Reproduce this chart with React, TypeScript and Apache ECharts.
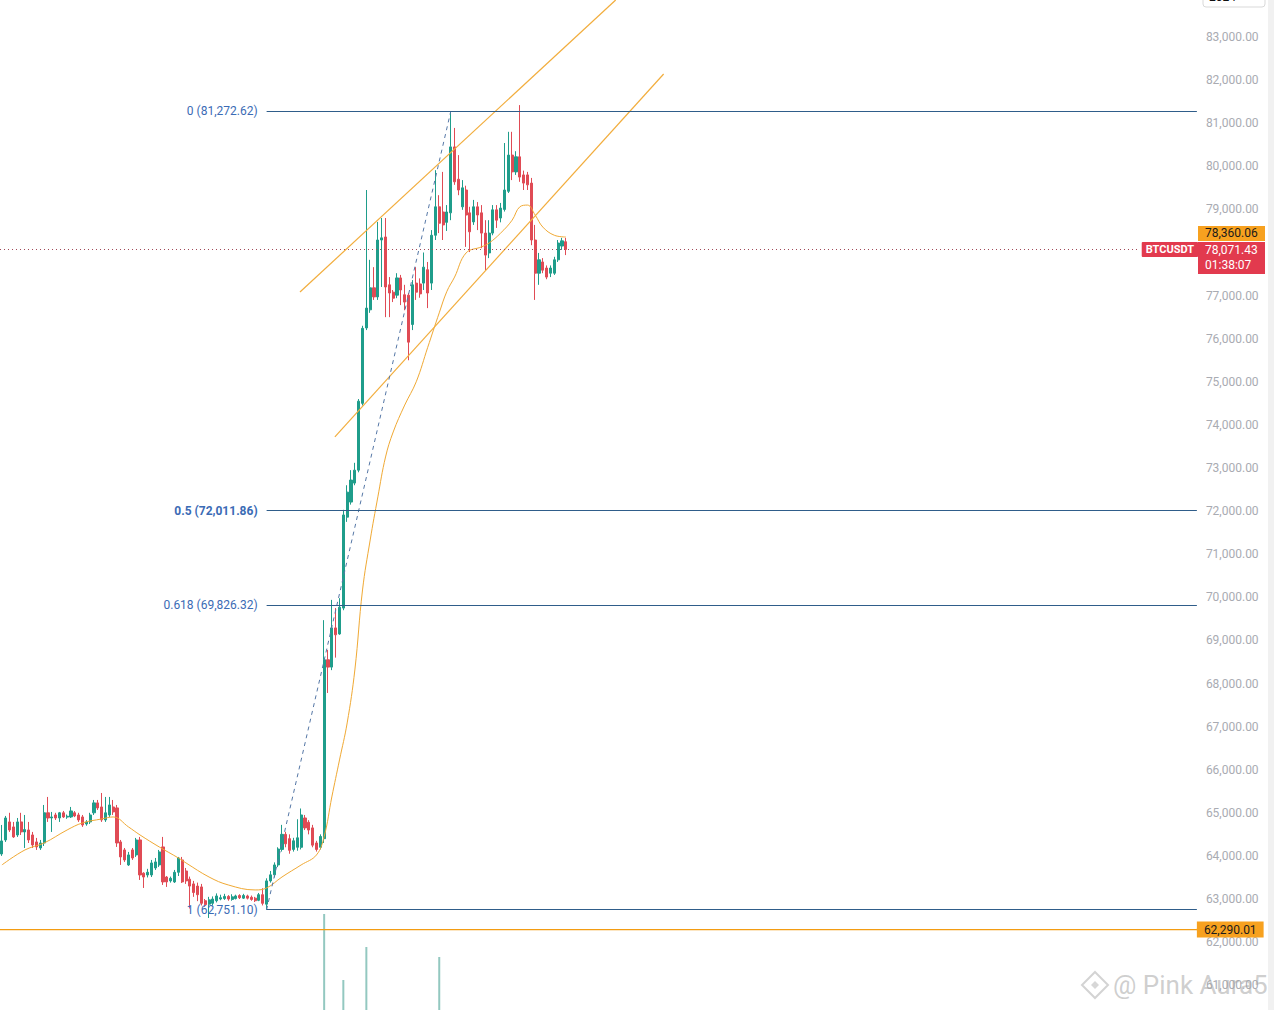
import React, { useEffect, useRef } from "react";
import * as echarts from "echarts";

// [open, close, low, high]
const candles: number[][] = [
  [64045, 64347, 64000, 64718], [64370, 64880, 64324, 64927], [64788, 64602, 64556, 65000], [64672, 64440, 64417, 64788],
  [64486, 64788, 64440, 64880], [64788, 64556, 64486, 65000], [64556, 64610, 64184, 64950], [64602, 64370, 64300, 64788],
  [64486, 64254, 64184, 64556], [64324, 64208, 64138, 64417], [64184, 64300, 64138, 64370], [64300, 65000, 64230, 65182],
  [65000, 64880, 64788, 65368], [64880, 64904, 64556, 65020], [64950, 64880, 64834, 65000], [64880, 65000, 64788, 65020],
  [65000, 64904, 64880, 65043], [64900, 64920, 64860, 64960], [64904, 65043, 64880, 65136], [65000, 64927, 64900, 65040],
  [64950, 64834, 64788, 65000], [64904, 64718, 64672, 64950], [64740, 64788, 64700, 64830], [64788, 64950, 64740, 65000],
  [65000, 65230, 64950, 65298], [65230, 65113, 65066, 65298], [65136, 64834, 64788, 65460], [64834, 65000, 64788, 65368],
  [64950, 65182, 64904, 65368], [65136, 65020, 64950, 65298], [65113, 64300, 64208, 65182], [64324, 63976, 63790, 64370],
  [64138, 63906, 63860, 64184], [63790, 64022, 63767, 64092], [64138, 63952, 63906, 64184], [64022, 64370, 63976, 64417],
  [64370, 63558, 63442, 64440], [63600, 63510, 63256, 63620], [63558, 63620, 63500, 63700], [63558, 63836, 63510, 63906],
  [63720, 63860, 63674, 63952], [63790, 64092, 63744, 64138], [64208, 63396, 63326, 64440], [63510, 63396, 63280, 63534],
  [63420, 63480, 63380, 63520], [63396, 63620, 63372, 63674], [63620, 63952, 63534, 63976], [63906, 63396, 63372, 63976],
  [63650, 63420, 63350, 63720], [63460, 63300, 62780, 63520], [63350, 63150, 63050, 63420], [63300, 63100, 62950, 63380],
  [63280, 62900, 62850, 63350], [62960, 62870, 62820, 63000], [62880, 62980, 62560, 63050], [62900, 63000, 62850, 63060],
  [62960, 63070, 62920, 63130], [63000, 63030, 62970, 63100], [63010, 63060, 62980, 63120], [63060, 63000, 62960, 63090],
  [62990, 63050, 62960, 63110], [63010, 63070, 62990, 63100], [63080, 63030, 63000, 63110], [63020, 63080, 63000, 63120],
  [63070, 63020, 62990, 63100], [63040, 62990, 62960, 63080], [63020, 62960, 62930, 63050], [62970, 63100, 62950, 63140],
  [63100, 62900, 62850, 63250], [62880, 63420, 62751.1, 63480], [63420, 63560, 63380, 63650], [63560, 63790, 63500, 63850],
  [63790, 64160, 63740, 64200], [64150, 64500, 64100, 64720], [64500, 64280, 64200, 64560], [64400, 64130, 64050, 64500],
  [64150, 64350, 64100, 64420], [64200, 64420, 64120, 64850], [64200, 64950, 64150, 65100], [64880, 64650, 64600, 64950],
  [64780, 64600, 64500, 64830], [64650, 64250, 64200, 64720], [64300, 64150, 64100, 64350], [64200, 64450, 64150, 64500],
  [64400, 68550, 64300, 69470], [68550, 68380, 67780, 68780], [68380, 69290, 68310, 69940], [69290, 69130, 68600, 69750],
  [69150, 69770, 69130, 69980], [69750, 71910, 69700, 72030], [71860, 72440, 71750, 72600], [72210, 72720, 72150, 72950],
  [72650, 72950, 72600, 73120], [72950, 74550, 72900, 74600], [74500, 76240, 74450, 76300], [76250, 76710, 76200, 79450],
  [76670, 77180, 76600, 77830], [77180, 76970, 76900, 77660], [76970, 78290, 76900, 78710], [78290, 78340, 77200, 78800],
  [78360, 77200, 76500, 78800], [77250, 77060, 76500, 77430], [77080, 76940, 76850, 77130], [77010, 77410, 76940, 77520],
  [77410, 77130, 76780, 77480], [77020, 76850, 76660, 77250], [77010, 75920, 75500, 77060], [76330, 77250, 76200, 77360],
  [77290, 77080, 76900, 77660], [77270, 77040, 76950, 77400], [77290, 77660, 77130, 78000], [77600, 77060, 76710, 77780],
  [77290, 78400, 77130, 78520], [78400, 79060, 78290, 79910], [79060, 78680, 78450, 79330], [78940, 78640, 78290, 79870],
  [78700, 78940, 78500, 79100], [78920, 80450, 78750, 81272.62], [80450, 79640, 79570, 80890], [79700, 79450, 79330, 80260],
  [79060, 79500, 78990, 79680], [79450, 78870, 78130, 79550], [78920, 78480, 78010, 79060], [78710, 79060, 78640, 79220],
  [79060, 78870, 78520, 79170], [78920, 78450, 78100, 79100], [78450, 77940, 77590, 78750], [77990, 78450, 77870, 78750],
  [78450, 78990, 78400, 79100], [78990, 78750, 78570, 79100], [78800, 79030, 78700, 79150], [79000, 79450, 78950, 80540],
  [79420, 80260, 79380, 80800], [80260, 79870, 79680, 80800], [79870, 80220, 79800, 80350], [80220, 79750, 79640, 81420],
  [79800, 79610, 79450, 79900], [79800, 79570, 79450, 79870], [79610, 78290, 78170, 79730], [78290, 77520, 76900, 78640],
  [77520, 77830, 77250, 77990], [77780, 77590, 77520, 77870], [77640, 77430, 77380, 77700], [77520, 77640, 77430, 77700],
  [77520, 77830, 77480, 77900], [77830, 78220, 77780, 78290], [78150, 78270, 78060, 78340], [78250, 78071.43, 77940, 78340],
];

// moving average, read at selected bars
const maIdx = [0, 6, 11, 17, 21, 26, 29, 33, 36, 41, 46, 48, 54, 59, 66, 69, 73, 78, 82, 84, 86, 88, 90, 92, 94, 96, 98, 100, 102, 105, 108, 111, 114, 116, 118, 121, 125, 127, 130, 133, 135, 137, 139, 141, 144, 147];
const maVal = [63790, 64138, 64300, 64602, 64765, 64857, 64904, 64672, 64486, 64208, 63952, 63836, 63510, 63326, 63210, 63256, 63510, 63790, 64022, 64450, 65368, 66226, 67085, 68314, 70170, 71330, 72330, 73256, 73836, 74460, 75000, 75800, 76600, 77100, 77430, 77990, 78130, 78220, 78450, 78750, 79060, 79100, 78870, 78590, 78400, 78360.06];

const volIdx = [84, 89, 95, 114];
const volVal = [9600, 3000, 6300, 5300];

const fibRatios = ["0", "0.5", "0.618", "1"];
const fibValues = [81272.62, 72011.86, 69826.32, 62751.1];
const fibStartIdx = 69;
const fibTrend = [[69, 62751.1], [117, 81272.62]];
const channelUpper = [[77.7, 77084], [160, 83858]];
const channelLower = [[86.8, 73720], [172.5, 82142]];
const supportLevel = 62290.01;
const lastPrice = 78071.43;
const maLast = 78360.06;
const countdown = "01:38:07";
const symbolName = "BTCUSDT";
const N_SLOTS = 312;
const Y_MIN = 60000;
const Y_MAX = 84000;
const Y_STEP = 1000;

const fmt = (v: number) =>
  v.toLocaleString("en-US", { minimumFractionDigits: 2, maximumFractionDigits: 2 });

const UP = "#1f9d8b";
const DOWN = "#e04b55";
const FIB = "#2f5d8a";
const FIB_TXT = "#3b6bb5";
const ORANGE = "#f2ad3d";
const FONT = "Roboto";

export default function App() {
  const ref = useRef<HTMLDivElement>(null);
  useEffect(() => {
    const chart = echarts.init(ref.current!, null, { renderer: "svg" });
    const cats = Array.from({ length: N_SLOTS }, (_, i) => String(i));
    const maData: (number | null)[] = candles.map(() => null);
    maIdx.forEach((ix, k) => (maData[ix] = maVal[k]));
    const volData: (number | string)[] = candles.map(() => "-");
    volIdx.forEach((ix, k) => (volData[ix] = volVal[k]));

    const gridW = N_SLOTS * 3.84;
    const option: any = {
      animation: false,
      textStyle: { fontFamily: FONT },
      grid: [
        { left: -1.2, top: 3.9, width: gridW, height: 1034.4 },
        { left: -1.2, top: 900, width: gridW, height: 120 },
      ],
      xAxis: [
        { type: "category", gridIndex: 0, data: cats, show: false },
        { type: "value", gridIndex: 0, min: -0.5, max: N_SLOTS - 0.5, show: false },
        { type: "category", gridIndex: 1, data: cats, show: false },
      ],
      yAxis: [
        {
          type: "value",
          gridIndex: 0,
          position: "right",
          min: Y_MIN,
          max: Y_MAX,
          interval: Y_STEP,
          axisLine: { show: false },
          axisTick: { show: false },
          splitLine: { show: false },
          axisLabel: {
            margin: 9,
            color: "#a9abb2",
            fontSize: 12,
            fontFamily: FONT,
            showMaxLabel: false,
            showMinLabel: false,
            formatter: (v: number) => fmt(v),
          },
        },
        { type: "value", gridIndex: 1, min: 0, max: 12000, show: false },
      ],
      series: [
        {
          type: "bar",
          xAxisIndex: 2,
          yAxisIndex: 1,
          data: volData,
          barWidth: 2,
          itemStyle: { color: "#93c8c0" },
          silent: true,
        },
        {
          type: "line",
          xAxisIndex: 1,
          yAxisIndex: 0,
          data: [[-0.5, supportLevel], [N_SLOTS - 0.5, supportLevel]],
          showSymbol: false,
          lineStyle: { color: "#f39c12", width: 1.4 },
          silent: true,
        },
        {
          type: "candlestick",
          xAxisIndex: 0,
          yAxisIndex: 0,
          data: candles,
          barWidth: 2.6,
          itemStyle: { color: UP, color0: DOWN, borderColor: UP, borderColor0: DOWN, borderWidth: 1 },
          silent: true,
        },
        {
          type: "line",
          xAxisIndex: 0,
          yAxisIndex: 0,
          data: maData,
          connectNulls: true,
          smooth: 0.4,
          showSymbol: false,
          lineStyle: { color: "#f0a934", width: 1 },
          silent: true,
        },
        {
          type: "line",
          xAxisIndex: 1,
          yAxisIndex: 0,
          data: channelUpper,
          showSymbol: false,
          lineStyle: { color: ORANGE, width: 1.2 },
          silent: true,
        },
        {
          type: "line",
          xAxisIndex: 1,
          yAxisIndex: 0,
          data: channelLower,
          showSymbol: false,
          lineStyle: { color: ORANGE, width: 1.2 },
          silent: true,
        },
        {
          type: "line",
          xAxisIndex: 1,
          yAxisIndex: 0,
          data: fibTrend,
          showSymbol: false,
          lineStyle: { color: "#5577a6", width: 1, type: [4, 4] },
          silent: true,
          markLine: {
            silent: true,
            symbol: ["none", "none"],
            animation: false,
            data: [
              ...fibValues.map((v, k) => [
                {
                  coord: [fibStartIdx, v],
                  lineStyle: { color: FIB, width: 1, type: "solid" },
                  label: {
                    show: true,
                    position: "start",
                    distance: 9,
                    color: FIB_TXT,
                    fontSize: 12,
                    fontFamily: FONT,
                    fontWeight: k === 1 ? "bold" : "normal",
                    formatter: `${fibRatios[k]} (${fmt(v)})`,
                  },
                },
                { coord: [N_SLOTS - 0.5, v] },
              ]),
              [
                {
                  coord: [N_SLOTS - 0.6, supportLevel],
                  lineStyle: { color: "#f39c12", width: 1.4, type: "solid" },
                  label: {
                    show: true,
                    position: "end",
                    distance: 0,
                    color: "#1b1b1b",
                    backgroundColor: "#f7a11f",
                    padding: [2, 7, 2, 7],
                    fontSize: 12,
                    fontFamily: FONT,
                    formatter: fmt(supportLevel),
                  },
                },
                { coord: [N_SLOTS - 0.5, supportLevel] },
              ],
              [
                {
                  coord: [-0.5, lastPrice],
                  lineStyle: { color: "#a04858", width: 1, type: [1, 3] },
                  label: {
                    show: true,
                    position: "end",
                    distance: 2,
                    color: "#ffffff",
                    backgroundColor: "#e23a4e",
                    padding: [2, 4, 2, 4],
                    borderRadius: 1,
                    fontSize: 11,
                    fontWeight: "bold",
                    fontFamily: FONT,
                    formatter: symbolName,
                  },
                },
                { coord: [296.6, lastPrice] },
              ],
            ],
          },
        },
      ],
    };
    chart.setOption(option);

    const yLast = chart.convertToPixel({ yAxisIndex: 0 }, lastPrice) as number;
    const yMa = chart.convertToPixel({ yAxisIndex: 0 }, maLast) as number;
    const axisX = 1198;
    const off = 10; // container is shifted 10px up
    const graphic: any[] = [
      { type: "rect", shape: { x: 1268, y: 0, width: 6, height: 1060 }, style: { fill: "#f1f1f1" }, z: 100 },
      { type: "rect", shape: { x: 1203, y: -2, width: 62, height: 19, r: 3 }, style: { fill: "#fff", stroke: "#d9d9d9", lineWidth: 1 }, z: 100 },
      { type: "text", x: 1209, y: 13, style: { text: "2024", fill: "#111", font: `12px ${FONT}`, textVerticalAlign: "bottom" }, z: 101 },
      // MA value box
      { type: "rect", shape: { x: axisX, y: yMa - 11, width: 67, height: 15 }, style: { fill: "#f7a11f" }, z: 100 },
      { type: "text", x: axisX + 7, y: yMa - 3.5, style: { text: fmt(maLast), fill: "#1b1b1b", font: `12px ${FONT}`, textVerticalAlign: "middle" }, z: 101 },
      // last price box
      { type: "rect", shape: { x: axisX, y: yLast - 7.5, width: 67, height: 32 }, style: { fill: "#e23a4e" }, z: 100 },
      { type: "text", x: axisX + 7, y: yLast + 0.5, style: { text: fmt(lastPrice), fill: "#fff", font: `12px ${FONT}`, textVerticalAlign: "middle" }, z: 101 },
      { type: "text", x: axisX + 7, y: yLast + 15.5, style: { text: countdown, fill: "#fff", font: `12px ${FONT}`, textVerticalAlign: "middle" }, z: 101 },
      // watermark
      {
        type: "polygon",
        shape: { points: [[1095, 972 + off], [1108, 985 + off], [1095, 998 + off], [1082, 985 + off]] },
        style: { fill: "none", stroke: "rgba(175,175,175,0.55)", lineWidth: 2 },
        z: 102,
      },
      {
        type: "polygon",
        shape: { points: [[1095, 981 + off], [1099, 985 + off], [1095, 989 + off], [1091, 985 + off]] },
        style: { fill: "rgba(175,175,175,0.5)" },
        z: 102,
      },
      {
        type: "text",
        x: 1113,
        y: 985 + off,
        style: { text: "@ Pink Aura5", fill: "rgba(165,165,165,0.55)", font: `26px ${FONT}`, textVerticalAlign: "middle" },
        z: 102,
      },
    ];
    chart.setOption({ graphic });
    return () => chart.dispose();
  }, []);
  return (
    <div
      ref={ref}
      style={{ position: "fixed", left: 0, top: -10, width: 1274, height: 1060, background: "#ffffff" }}
    />
  );
}
